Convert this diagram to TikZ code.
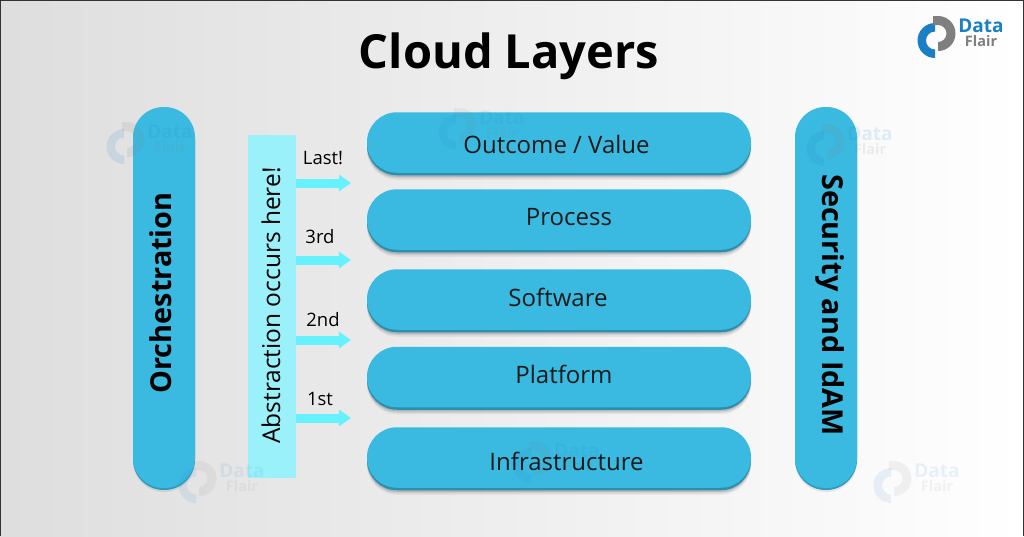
\documentclass[tikz,border=0pt]{standalone}
\usepackage{fontspec}
\setmainfont{Open Sans}
\usetikzlibrary{arrows.meta,shadows,calc}
\definecolor{barblue}{HTML}{3ABAE1}
\definecolor{baredge}{HTML}{2B8FAF}
\definecolor{absfill}{HTML}{9BF1F9}
\definecolor{arrowcol}{HTML}{66F1FF}
\definecolor{logoblue}{HTML}{1B7FC4}
\definecolor{logogray}{HTML}{7F7F7F}
\tikzset{
  softedge/.style={
     general shadow={shadow xshift=0pt,shadow yshift=-7pt,fill=black,opacity=.05},
     general shadow={shadow xshift=0pt,shadow yshift=-5.5pt,fill=black,opacity=.08},
     general shadow={shadow xshift=0pt,shadow yshift=-4pt,fill=black,opacity=.12},
     general shadow={shadow xshift=0pt,shadow yshift=-2.5pt,fill=baredge}},
  layer/.style={draw=none,fill=barblue,rounded corners=30pt,minimum width=384pt,minimum height=60.5pt,inner sep=0pt,softedge},
  sidebar/.style={draw=none,fill=barblue,rounded corners=30.5pt,minimum width=62pt,minimum height=381pt,inner sep=0pt,
     general shadow={shadow xshift=0pt,shadow yshift=-4pt,fill=black,opacity=.08},
     general shadow={shadow xshift=0pt,shadow yshift=-2pt,fill=baredge!70!barblue}},
  layertext/.style={font=\fontsize{24}{28}\selectfont,text=black!90,inner sep=0pt},
  sidetext/.style={font=\fontsize{28.8}{30}\selectfont\bfseries,text=black,inner sep=0pt},
  absbox/.style={draw=none,fill=absfill,minimum width=48pt,minimum height=343pt,inner sep=0pt},
  absarrow/.style={draw=arrowcol,line width=9pt,-{Triangle[length=12pt,width=16pt]}},
  steplabel/.style={font=\fontsize{18.5}{20}\selectfont,text=black,inner sep=0pt},
}
\newcommand{\dflogo}[3]{% x, y, opacity
  \begin{scope}[shift={(#1,#2)},opacity=#3,y=1pt]
    \fill[logoblue] (-1,14) arc[start angle=90,end angle=270,radius=17.5] -- (-1,-12.5) arc[start angle=270,end angle=90,radius=9] -- cycle;
    \fill[logogray] (-3,21) -- (2,21) arc[start angle=90,end angle=-90,radius=17.5] -- (2,-5) arc[start angle=-90,end angle=90,radius=8.5] -- (-3,12) -- cycle;
    \node[inner sep=0pt,text=logoblue,font=\fontsize{19}{20}\selectfont\bfseries] at (45,11) {Data};
    \node[inner sep=0pt,text=logogray,font=\fontsize{14.5}{16}\selectfont\bfseries] at (45,-4) {Flair};
  \end{scope}}
\begin{document}
\begin{tikzpicture}[x=1pt,y=-1pt]
\useasboundingbox (0,0) rectangle (1024,536);
\shade[left color=black!13,right color=white] (0,0) rectangle (1024,536);
\draw[black!80,line width=2.5pt] (0,536) -- (0,0) -- (1024,0) -- (1024,536);
\node[font=\fontsize{47}{50}\selectfont\bfseries,text=black,inner sep=0pt] (title) at (509,56) {Cloud Layers};

\node[sidebar] (orch) at (164,297.5) {};
\node[sidebar] (sec) at (826,297.5) {};
\node[absbox] (abs) at (272,306.5) {};
\node[layer] (l5) at (559,142.5) {};
\node[layer] (l4) at (559,219.5) {};
\node[layer] (l3) at (559,299.5) {};
\node[layer] (l2) at (559,377) {};
\node[layer] (l1) at (559,457.5) {};

\dflogo{125}{143}{.12}
\dflogo{197}{482}{.09}
\dflogo{457}{129}{.09}
\dflogo{532}{462}{.09}
\dflogo{825}{145}{.12}
\dflogo{892}{482}{.09}
\dflogo{936}{37}{1}

\node[layertext] (t5) at (556.5,144) {Outcome / Value};
\node[layertext] (t4) at (569,217) {Process};
\node[layertext] (t3) at (558,297) {Software};
\node[layertext] (t2) at (564,374.5) {Platform};
\node[layertext] (t1) at (566.5,461) {Infrastructure};
\node[sidetext,rotate=90] (to) at (161,293) {Orchestration};
\node[sidetext,rotate=-90] (ts) at (830,305) {Security and IdAM};
\node[font=\fontsize{24.5}{28}\selectfont,text=black,rotate=90,inner sep=0pt] (ta) at (271,305.5) {Abstraction occurs here!};

\coordinate (a4) at (351,183);
\coordinate (a3) at (351,260);
\coordinate (a2) at (351,340);
\coordinate (a1) at (351,418);
\draw[absarrow] (abs.east |- a4) -- (a4);
\draw[absarrow] (abs.east |- a3) -- (a3);
\draw[absarrow] (abs.east |- a2) -- (a2);
\draw[absarrow] (abs.east |- a1) -- (a1);
\node[steplabel] (n4) at (323,158) {Last!};
\node[steplabel] (n3) at (320,237) {3rd};
\node[steplabel] (n2) at (323,320) {2nd};
\node[steplabel] (n1) at (320,399) {1st};
\end{tikzpicture}
\end{document}
